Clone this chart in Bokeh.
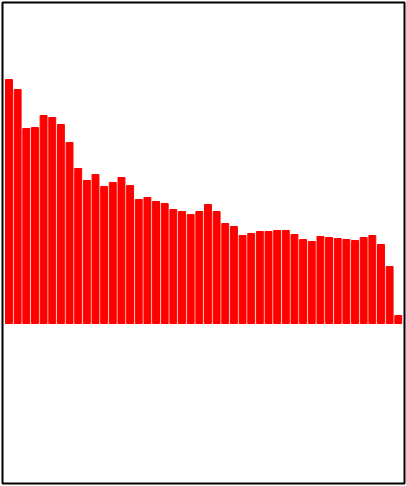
from bokeh.plotting import figure
from bokeh.models import ColumnDataSource, Range1d
from bokeh.embed import file_html
from bokeh.resources import INLINE

# bar heights (arbitrary units, baseline at 0)
positions = list(range(1, 47))
heights = [
    244, 234, 195, 196, 208, 206, 199, 181, 155, 143,
    149, 137, 141, 146, 138, 124, 126, 122, 120, 114,
    112, 109, 112, 119, 112, 100, 97, 88, 90, 92,
    92, 93, 93, 89, 84, 82, 87, 86, 85, 84,
    83, 86, 88, 79, 57, 8,
]

source = ColumnDataSource(data=dict(x=positions, top=heights))

p = figure(
    width=406,
    height=485,
    x_range=Range1d(0.25, 46.72),
    y_range=Range1d(-160, 321),
    x_axis_type=None,
    y_axis_type=None,
    output_backend="svg",
    toolbar_location=None,
    min_border=2,
)
p.grid.visible = False
p.outline_line_color = "black"
p.outline_line_width = 2
p.outline_line_alpha = 1

p.vbar(x="x", top="top", bottom=0, width=0.8, color="red", source=source)

open("out.html", "w").write(file_html(p, INLINE))
